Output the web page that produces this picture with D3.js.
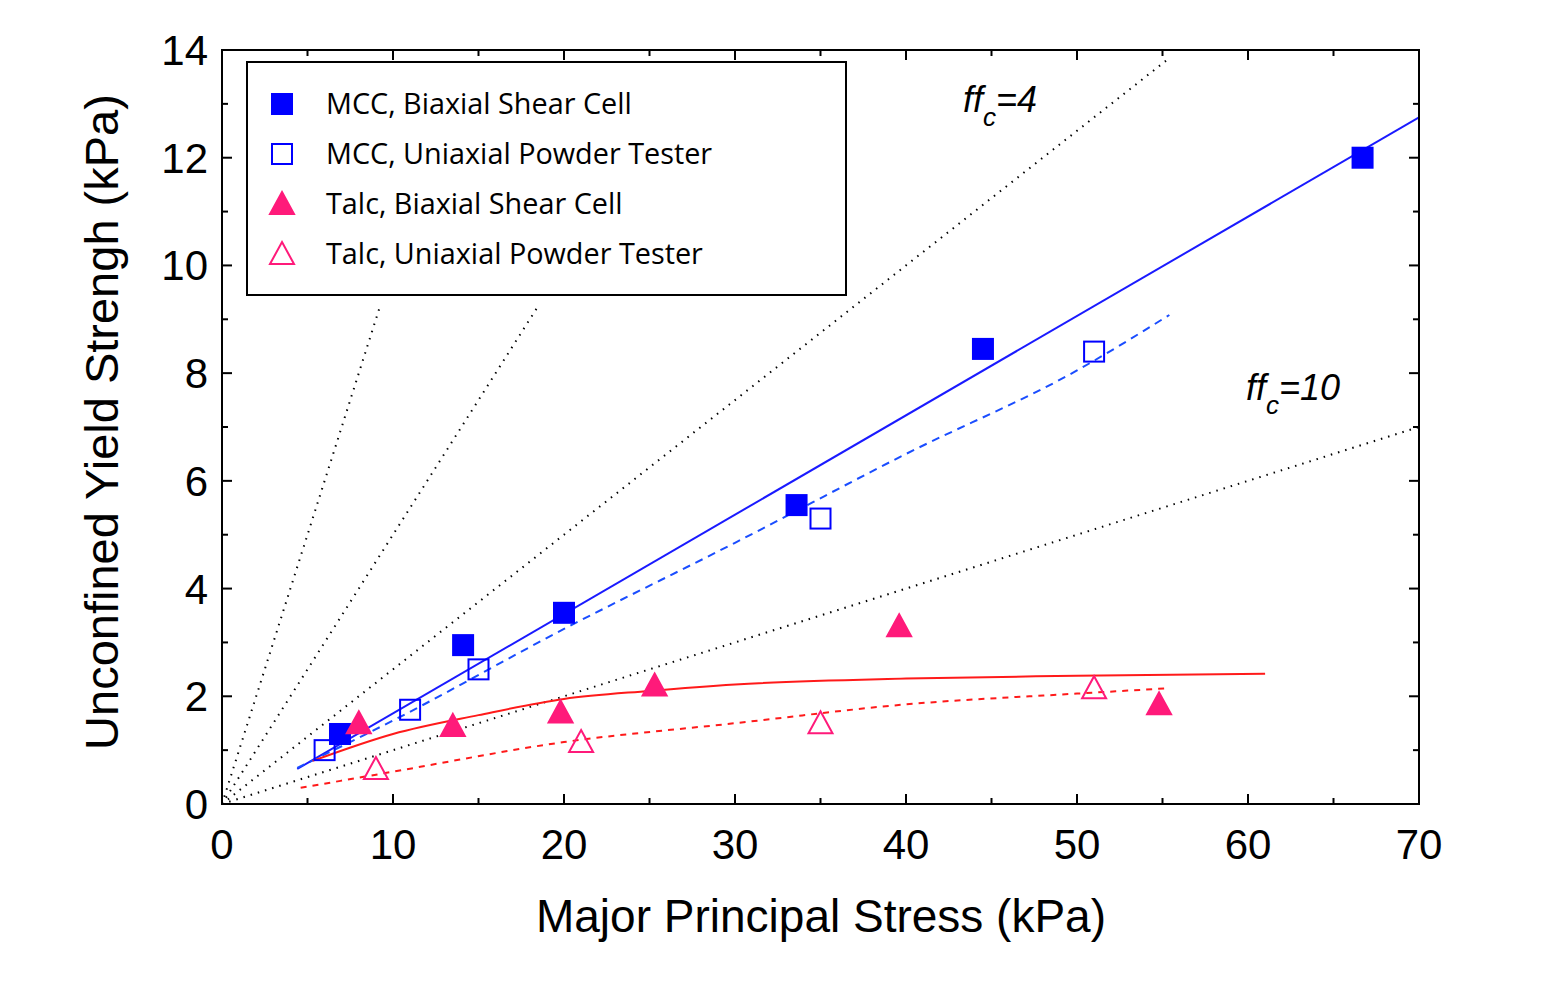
<!DOCTYPE html><html><head><meta charset="utf-8">
<script src="https://cdn.jsdelivr.net/npm/d3@7"></script>
<style>body{margin:0;background:#fff}</style></head><body>
<svg id="c" width="1564" height="989"></svg>
<script>
const xTicks=[0,10,20,30,40,50,60,70];
const yTicks=[0,2,4,6,8,10,12,14];
const mccBiaxial=[[6.9,1.3],[14.1,2.95],[20.0,3.55],[33.6,5.55],[44.5,8.45],[66.7,12.0]];
const mccUniaxial=[[6.0,1.0],[11.0,1.75],[15.0,2.5],[35.0,5.3],[51.0,8.4]];
const talcBiaxial=[[8.0,1.5],[13.5,1.45],[19.8,1.7],[25.3,2.2],[39.6,3.3],[54.8,1.85]];
const talcUniaxial=[[9.0,0.65],[21.0,1.15],[35.0,1.5],[51.0,2.15]];
const mccBiaxialFit=[[4.4,0.65],[70,12.75]];
const mccUniaxialFit=[[4.4,0.67],[10,1.55],[20,3.25],[30,4.85],[40,6.5],[50,8.05],[55.4,9.08]];
const talcBiaxialFit=[[5.3,0.8],[10,1.3],[15,1.65],[20,1.95],[25,2.1],[30,2.22],[40,2.33],[50,2.38],[61,2.42]];
const talcUniaxialFit=[[4.6,0.3],[10,0.6],[20,1.15],[30,1.5],[40,1.85],[50,2.05],[55.4,2.15]];
const ffcLines=[[1,9.2],[2,18.5],[4,55.4],[10,70]];
const legendLabels=["MCC, Biaxial Shear Cell","MCC, Uniaxial Powder Tester","Talc, Biaxial Shear Cell","Talc, Uniaxial Powder Tester"];

const svg=d3.select("#c");
const L=222,R=1419,T=50,B=804;
const x=d3.scaleLinear().domain([0,70]).range([L,R]);
const y=d3.scaleLinear().domain([0,14]).range([B,T]);
const F="'Liberation Sans',Arial,sans-serif";
svg.append("clipPath").attr("id","cp").append("rect").attr("x",L).attr("y",T).attr("width",R-L).attr("height",B-T);
const g=svg.append("g").attr("clip-path","url(#cp)");
const line=d3.line().x(d=>x(d[0])).y(d=>y(d[1]));
const cline=d3.line().x(d=>x(d[0])).y(d=>y(d[1])).curve(d3.curveMonotoneX);
ffcLines.forEach(([f,m])=>g.append("path").attr("d",line([[0,0],[m,m/f]])).attr("fill","none").attr("stroke","#000").attr("stroke-width",2).attr("stroke-dasharray","1.5,6"));
const fit=(d,c,dash)=>g.append("path").attr("d",cline(d)).attr("fill","none").attr("stroke",c).attr("stroke-width",2).attr("stroke-dasharray",dash||null);
fit(mccBiaxialFit,"#1a1aff");fit(mccUniaxialFit,"#1a4dff","8,6");
fit(talcBiaxialFit,"#ff1a1a");fit(talcUniaxialFit,"#ff1a1a","6,6");
const sq=(sel,cx,cy,filled)=>sel.append("rect").attr("x",cx-10).attr("y",cy-10).attr("width",20).attr("height",20).attr("fill",filled?"#0000ff":"#fff").attr("fill-opacity",filled?1:0).attr("stroke","#0000ff").attr("stroke-width",2);
const tri=(sel,cx,cy,filled)=>sel.append("path").attr("d",`M${cx},${cy-12}L${cx+12},${cy+10}L${cx-12},${cy+10}Z`).attr("fill",filled?"#ff1a7a":"none").attr("stroke","#ff1a7a").attr("stroke-width",2);
mccUniaxial.forEach(d=>sq(svg,x(d[0]),y(d[1]),false));
mccBiaxial.forEach(d=>sq(svg,x(d[0]),y(d[1]),true));
talcUniaxial.forEach(d=>tri(svg,x(d[0]),y(d[1]),false));
talcBiaxial.forEach(d=>tri(svg,x(d[0]),y(d[1]),true));
svg.append("rect").attr("x",L).attr("y",T).attr("width",R-L).attr("height",B-T).attr("fill","none").attr("stroke","#000").attr("stroke-width",2);
const ax=svg.append("g");
xTicks.forEach(v=>{ax.append("line").attr("x1",x(v)).attr("x2",x(v)).attr("y1",B).attr("y2",B-10).attr("stroke","#000").attr("stroke-width",2);
 ax.append("line").attr("x1",x(v)).attr("x2",x(v)).attr("y1",T).attr("y2",T+10).attr("stroke","#000").attr("stroke-width",2);
 ax.append("text").attr("x",x(v)).attr("y",B+55).attr("text-anchor","middle").attr("font-family",F).attr("font-size",42).text(v);});
yTicks.forEach(v=>{ax.append("line").attr("x1",L).attr("x2",L+10).attr("y1",y(v)).attr("y2",y(v)).attr("stroke","#000").attr("stroke-width",2);
 ax.append("line").attr("x1",R).attr("x2",R-10).attr("y1",y(v)).attr("y2",y(v)).attr("stroke","#000").attr("stroke-width",2);
 ax.append("text").attr("x",L-14).attr("y",y(v)+15).attr("text-anchor","end").attr("font-family",F).attr("font-size",42).text(v);});
d3.range(1,14,2).forEach(v=>{ax.append("line").attr("x1",L).attr("x2",L+6).attr("y1",y(v)).attr("y2",y(v)).attr("stroke","#000").attr("stroke-width",2);
 ax.append("line").attr("x1",R).attr("x2",R-6).attr("y1",y(v)).attr("y2",y(v)).attr("stroke","#000").attr("stroke-width",2);});
d3.range(5,70,10).forEach(v=>{ax.append("line").attr("x1",x(v)).attr("x2",x(v)).attr("y1",B).attr("y2",B-6).attr("stroke","#000").attr("stroke-width",2);
 ax.append("line").attr("x1",x(v)).attr("x2",x(v)).attr("y1",T).attr("y2",T+6).attr("stroke","#000").attr("stroke-width",2);});
svg.append("text").attr("x",821).attr("y",932).attr("text-anchor","middle").attr("font-family",F).attr("font-size",46).text("Major Principal Stress (kPa)");
svg.append("text").attr("transform",`translate(118,422) rotate(-90)`).attr("text-anchor","middle").attr("font-family",F).attr("font-size",47).text("Unconfined Yield Strengh (kPa)");
const ann=(tx,ty,n)=>{const t=svg.append("text").attr("x",tx).attr("y",ty).attr("font-family",F).attr("font-size",36).attr("font-style","italic");
 t.append("tspan").text("ff");t.append("tspan").attr("dy",14).attr("font-size",26).text("c");t.append("tspan").attr("dy",-14).text("="+n);};
ann(963,112,4);ann(1246,400,10);
const lg=svg.append("g");
lg.append("rect").attr("x",247).attr("y",62).attr("width",599).attr("height",233).attr("fill","#fff").attr("stroke","#000").attr("stroke-width",2);
legendLabels.forEach((t,i)=>{const cy=104+i*50;
 if(i<2) sq(lg,282,cy,i===0); else tri(lg,282,cy,i===2);
 lg.append("text").attr("x",326).attr("y",cy+10).attr("font-family","'Open Sans',sans-serif").attr("font-size",28.8).text(t);});
</script></body></html>
